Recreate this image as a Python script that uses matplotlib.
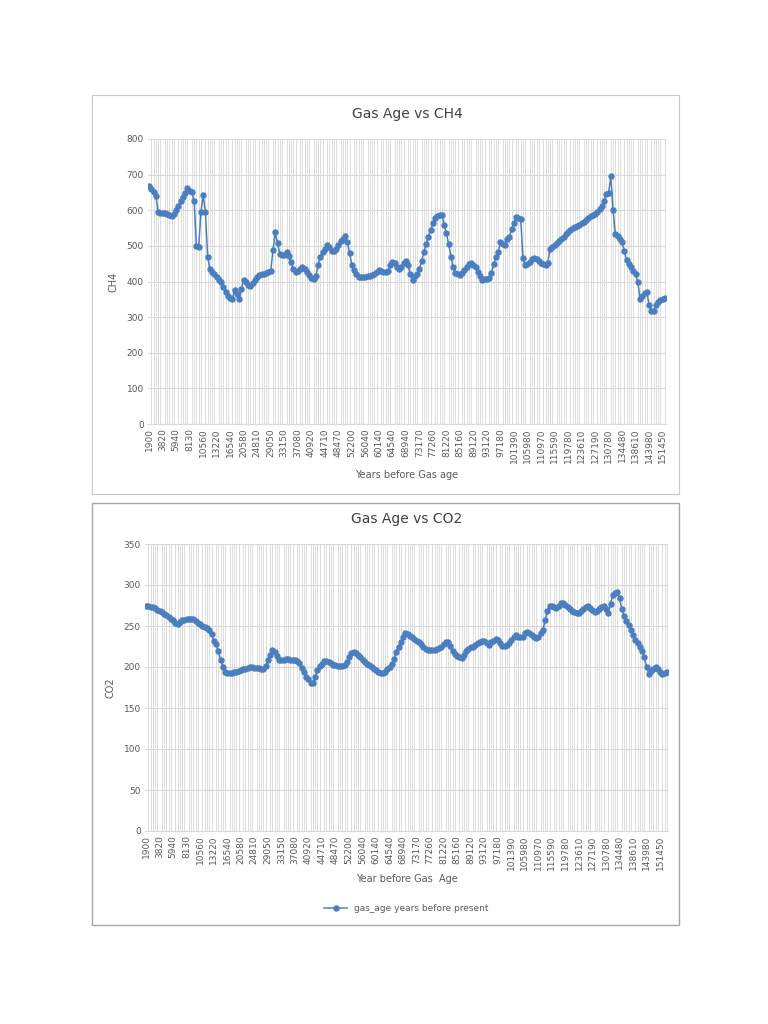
import matplotlib.pyplot as plt
from matplotlib.patches import Rectangle

tick_labels = ['1900', '3820', '5940', '8130', '10560', '13220', '16540', '20580',
               '24810', '29050', '33150', '37080', '40920', '44710', '48470', '52200',
               '56040', '60140', '64540', '68940', '73170', '77260', '81220', '85160',
               '89120', '93120', '97180', '101390', '105980', '110970', '115590',
               '119780', '123610', '127190', '130780', '134480', '138610', '143980',
               '151450']

ch4 = [668, 660, 650, 641, 595, 593, 592, 592, 590, 588,
       583, 590, 600, 612, 625, 638, 648, 662, 655, 650,
       625, 500, 497, 595, 642, 595, 468, 435, 428, 420,
       412, 405, 398, 385, 370, 358, 354, 352, 375, 365,
       350, 380, 405, 398, 390, 388, 395, 405, 412, 417,
       420, 422, 424, 426, 430, 488, 538, 508, 478, 475,
       475, 482, 472, 455, 435, 428, 430, 436, 440, 436,
       428, 418, 410, 408, 415, 445, 470, 482, 492, 502,
       497, 487, 486, 490, 503, 515, 520, 527, 512, 480,
       447, 432, 420, 413, 412, 413, 414, 415, 416, 418,
       422, 428, 433, 430, 427, 426, 430, 445, 455, 452,
       442, 435, 442, 452, 458, 445, 420, 405, 415, 422,
       435, 458, 482, 505, 525, 545, 563, 578, 585, 588,
       588, 560, 535, 505, 470, 440, 425, 420, 418, 425,
       432, 442, 450, 452, 447, 440, 428, 415, 405, 408,
       408, 410, 425, 448, 470, 482, 510, 505, 502, 520,
       525, 548, 565, 580, 578, 575, 465, 445, 450, 456,
       462, 465, 462, 458, 453, 448, 445, 452, 490, 497,
       502, 508, 513, 520, 526, 532, 538, 544, 549, 553,
       557, 560, 563, 567, 572, 577, 583, 587, 590, 596,
       603, 612, 625, 645, 648, 695, 600, 532, 528, 520,
       510, 485, 460, 448, 440, 430, 420, 398, 352, 358,
       368, 370, 335, 318, 318, 335, 342, 348, 352, 355]

co2 = [274, 274, 273, 273, 272, 270, 268, 267, 265, 263,
       261, 259, 257, 254, 252, 255, 257, 257, 258, 259,
       259, 258, 256, 254, 252, 250, 249, 247, 245, 240,
       232, 228, 219, 209, 200, 194, 193, 193, 193, 194,
       194, 195, 196, 197, 198, 199, 200, 200, 199, 199,
       199, 198, 198, 201, 208, 215, 221, 218, 213, 208,
       208, 209, 210, 210, 209, 209, 208, 207, 205, 199,
       194, 188, 185, 181, 180, 188, 196, 201, 204, 207,
       207, 206, 205, 203, 202, 201, 201, 201, 203, 206,
       212, 217, 218, 217, 215, 212, 209, 206, 204, 202,
       200, 198, 196, 194, 193, 193, 194, 197, 200, 204,
       210, 218, 225, 231, 237, 242, 240, 238, 236, 234,
       232, 230, 228, 225, 222, 221, 221, 221, 221, 222,
       223, 225, 228, 231, 231, 226, 220, 216, 214, 212,
       211, 215, 219, 222, 224, 225, 227, 229, 231, 232,
       232, 229, 227, 230, 232, 234, 233, 229, 226, 226,
       227, 229, 233, 236, 239, 237, 236, 237, 241, 243,
       241, 239, 236, 235, 237, 241, 245, 257, 268, 275,
       274, 273, 272, 275, 278, 278, 276, 273, 271, 268,
       267, 266, 266, 268, 271, 273, 274, 272, 270, 267,
       268, 271, 273, 274, 271, 266, 277, 288, 290, 292,
       284, 271, 262, 256, 251, 245, 239, 233, 229, 225,
       220, 212, 200, 192, 195, 198, 200, 197, 194, 192,
       193, 194]

blue = '#4a7ebf'
grey_txt = '#595959'
grid_c = '#d9d9d9'

fig = plt.figure(figsize=(7.68, 10.24), dpi=100)
W, H = 768, 1024


def frac(x0, y0, x1, y1):
    return [x0 / W, 1 - y1 / H, (x1 - x0) / W, (y1 - y0) / H]


def draw(ax, values, ymax, ystep, title, xlabel, ylabel):
    n = len(values)
    ax.plot(range(n), values, color=blue, lw=1.1, marker='o', ms=3.6,
            label='gas_age years before present')
    ax.set_xlim(-0.5, n - 0.5)
    ax.set_ylim(0, ymax)
    ax.set_yticks(range(0, ymax + 1, ystep))
    ax.set_xticks(range(0, 6 * len(tick_labels), 6))
    ax.set_xticklabels(tick_labels, rotation=90)
    ax.set_xticks(range(n), minor=True)
    ax.grid(axis='y', color=grid_c, lw=0.8)
    ax.grid(axis='x', which='minor', color='#d3d3d3', lw=0.55)
    ax.set_axisbelow(True)
    ax.tick_params(axis='both', which='both', length=0, labelsize=6.5,
                   labelcolor=grey_txt, pad=3)
    for side in ['top', 'right', 'left']:
        ax.spines[side].set_visible(False)
    ax.spines['bottom'].set_color(grid_c)
    ax.set_title(title, fontsize=10, color='#404040', pad=15)
    ax.set_xlabel(xlabel, fontsize=7, color=grey_txt, labelpad=5)
    ax.set_ylabel(ylabel, fontsize=7, color=grey_txt, labelpad=6)


# chart borders
fig.add_artist(Rectangle((92 / W, 1 - 494 / H), 587 / W, 399 / H,
                         transform=fig.transFigure, fill=False,
                         edgecolor='#c8c8c8', lw=0.8))
fig.add_artist(Rectangle((92 / W, 1 - 925 / H), 587 / W, 422 / H,
                         transform=fig.transFigure, fill=False,
                         edgecolor='#a6a6a6', lw=1.0))

ax1 = fig.add_axes(frac(148, 139, 666, 424))
draw(ax1, ch4, 800, 100, 'Gas Age vs CH4', 'Years before Gas age', 'CH4')

ax2 = fig.add_axes(frac(145, 544, 668, 831))
draw(ax2, co2, 350, 50, 'Gas Age vs CO2', 'Year before Gas  Age', 'CO2')
ax2.xaxis.labelpad = 3
ax2.legend(loc='upper center', bbox_to_anchor=(0.5, -0.225), frameon=False,
           fontsize=6.5, labelcolor=grey_txt, handlelength=2.5)

plt.savefig('out.png', dpi=100)
